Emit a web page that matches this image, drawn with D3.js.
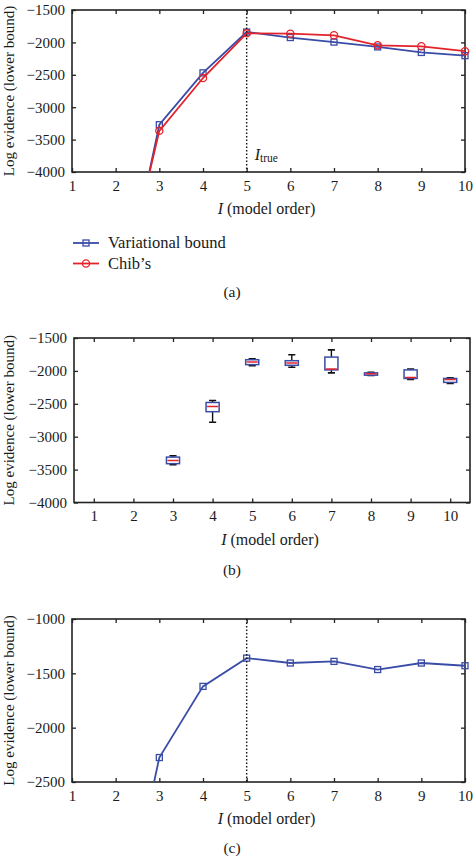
<!DOCTYPE html>
<html>
<head>
<meta charset="utf-8">
<script src="https://cdn.jsdelivr.net/npm/d3@7"></script>
<style>
  body { margin: 0; background: #fff; }
  svg text { font-family: "Liberation Serif", "DejaVu Serif", serif; fill: #1a1a1a; }
</style>
</head>
<body>
<svg id="fig" width="474" height="856"></svg>
<script>
// model orders
const orders = [1, 2, 3, 4, 5, 6, 7, 8, 9, 10];
const lineOrders = [2, 3, 4, 5, 6, 7, 8, 9, 10];

// panel (a): variational bound vs Chib's estimate
const variationalA = [-6440, -3270, -2470, -1840, -1925, -1995, -2070, -2155, -2205];
const chibA = [-6230, -3365, -2550, -1860, -1865, -1890, -2045, -2060, -2135];

// panel (b): box plots over runs
const boxOrders = [3, 4, 5, 6, 7, 8, 9, 10];
const boxLow = [-3425, -2780, -1920, -1945, -2030, -2070, -2130, -2190];
const boxQ1 = [-3410, -2620, -1905, -1915, -1985, -2065, -2115, -2175];
const boxMedian = [-3360, -2540, -1865, -1880, -1970, -2045, -2100, -2130];
const boxQ3 = [-3310, -2480, -1830, -1845, -1790, -2030, -1985, -2115];
const boxHigh = [-3290, -2450, -1815, -1755, -1680, -2020, -1970, -2105];

// panel (c): variational bound on a second dataset
const variationalC = [-4140, -2275, -1620, -1360, -1405, -1390, -1465, -1405, -1430];

const yTicksAB = [-4000, -3500, -3000, -2500, -2000, -1500];
const yTicksC = [-2500, -2000, -1500, -1000];

const blue = "#3a4ca6", red = "#e3232b";
const svg = d3.select("#fig");
const fmt = d => (d < 0 ? "\u2212" + Math.abs(d) : String(d));

function panel(cfg) {
  const g = svg.append("g");
  const x = d3.scaleLinear().domain(cfg.xDomain).range([cfg.left, cfg.right]);
  const y = d3.scaleLinear().domain(cfg.yDomain).range([cfg.bottom, cfg.top]);

  const axes = [
    [d3.axisBottom(x).tickValues(orders).tickFormat(d => d).tickPadding(8), `translate(0,${cfg.bottom})`],
    [d3.axisTop(x).tickValues(orders).tickFormat(""), `translate(0,${cfg.top})`],
    [d3.axisLeft(y).tickValues(cfg.yTicks).tickFormat(fmt).tickPadding(7), `translate(${cfg.left},0)`],
    [d3.axisRight(y).tickValues(cfg.yTicks).tickFormat(""), `translate(${cfg.right},0)`]
  ];
  axes.forEach(([ax, tr]) => {
    const a = g.append("g").attr("transform", tr)
      .call(ax.tickSizeInner(-4).tickSizeOuter(0));
    a.select(".domain").remove();
    a.selectAll("line").attr("stroke", "#222").attr("stroke-width", 1.3);
    a.selectAll("text").style("font-size", "15px").attr("fill", "#1a1a1a")
      .style("font-family", '"Liberation Serif", serif');
  });

  g.append("rect")
    .attr("x", cfg.left).attr("y", cfg.top)
    .attr("width", cfg.right - cfg.left).attr("height", cfg.bottom - cfg.top)
    .attr("fill", "none").attr("stroke", "#222").attr("stroke-width", 1.6);

  g.append("text")
    .attr("transform", `translate(14,${(cfg.top + cfg.bottom) / 2}) rotate(-90)`)
    .attr("text-anchor", "middle").style("font-size", "15px")
    .text("Log evidence (lower bound)");

  const xl = g.append("text")
    .attr("x", (cfg.left + cfg.right) / 2 - 2).attr("y", cfg.bottom + 42)
    .attr("text-anchor", "middle").style("font-size", "16px");
  xl.append("tspan").attr("font-style", "italic").text("I");
  xl.append("tspan").text(" (model order)");

  g.append("text")
    .attr("x", 232).attr("y", cfg.captionY)
    .attr("text-anchor", "middle").style("font-size", "15.5px")
    .text(cfg.caption);

  const clipId = "clip" + cfg.caption.replace(/\W/g, "");
  g.append("clipPath").attr("id", clipId).append("rect")
    .attr("x", cfg.left).attr("y", cfg.top - 10)
    .attr("width", cfg.right - cfg.left + 10).attr("height", cfg.bottom - cfg.top + 10);
  const plot = g.append("g").attr("clip-path", `url(#${clipId})`);

  return { g, plot, x, y };
}

function trueOrderLine(p, label) {
  p.g.append("line")
    .attr("x1", p.x(5)).attr("x2", p.x(5))
    .attr("y1", p.y.range()[1]).attr("y2", p.y.range()[0])
    .attr("stroke", "#111").attr("stroke-width", 1.4)
    .attr("stroke-dasharray", "1.5,2");
  if (label) {
    const t = p.g.append("text")
      .attr("x", p.x(5) + 8).attr("y", p.y.range()[0] - 12)
      .style("font-size", "16px");
    t.append("tspan").attr("font-style", "italic").text("I");
    t.append("tspan").attr("dy", 2).style("font-size", "11.5px").text("true");
  }
}

function series(p, values, color, marker) {
  const pts = lineOrders.map((o, i) => [o, values[i]]);
  p.plot.append("path")
    .datum(pts)
    .attr("d", d3.line().x(d => p.x(d[0])).y(d => p.y(d[1])))
    .attr("fill", "none").attr("stroke", color).attr("stroke-width", 1.8);
  const m = p.plot.selectAll(null).data(pts).join(marker === "square" ? "rect" : "circle");
  if (marker === "square") {
    m.attr("x", d => p.x(d[0]) - 3).attr("y", d => p.y(d[1]) - 3)
      .attr("width", 6).attr("height", 6);
  } else {
    m.attr("cx", d => p.x(d[0])).attr("cy", d => p.y(d[1])).attr("r", 3.6);
  }
  m.attr("fill", "none").attr("stroke", color).attr("stroke-width", 1.3);
}

// ---- panel (a)
const pa = panel({ left: 72, right: 465, top: 10, bottom: 172, xDomain: [1, 10],
  yDomain: [-4000, -1500], yTicks: yTicksAB, caption: "(a)", captionY: 297 });
trueOrderLine(pa, true);
series(pa, variationalA, blue, "square");
series(pa, chibA, red, "circle");

// legend
const legend = [["Variational bound", blue, "square"], ["Chib\u2019s", red, "circle"]];
legend.forEach(([name, color, marker], i) => {
  const ly = 243 + i * 20.5;
  pa.g.append("line").attr("x1", 73).attr("x2", 99).attr("y1", ly).attr("y2", ly)
    .attr("stroke", color).attr("stroke-width", 1.8);
  if (marker === "square") {
    pa.g.append("rect").attr("x", 83).attr("y", ly - 3).attr("width", 6).attr("height", 6)
      .attr("fill", "none").attr("stroke", color).attr("stroke-width", 1.3);
  } else {
    pa.g.append("circle").attr("cx", 86).attr("cy", ly).attr("r", 3.6)
      .attr("fill", "none").attr("stroke", color).attr("stroke-width", 1.3);
  }
  pa.g.append("text").attr("x", 108).attr("y", ly + 5).style("font-size", "16.5px").text(name);
});

// ---- panel (b)
const pb = panel({ left: 74, right: 470, top: 338, bottom: 502.5, xDomain: [0.5, 10.5],
  yDomain: [-4000, -1500], yTicks: yTicksAB, caption: "(b)", captionY: 575 });
const boxes = boxOrders.map((o, i) => ({
  o, lo: boxLow[i], q1: boxQ1[i], med: boxMedian[i], q3: boxQ3[i], hi: boxHigh[i]
}));
const bw = 0.33, cw = 0.18;
const bg = pb.plot.selectAll(".box").data(boxes).join("g").attr("class", "box");
bg.append("line").attr("x1", d => pb.x(d.o)).attr("x2", d => pb.x(d.o))
  .attr("y1", d => pb.y(d.hi)).attr("y2", d => pb.y(d.q3))
  .attr("stroke", "#111").attr("stroke-width", 1.4);
bg.append("line").attr("x1", d => pb.x(d.o)).attr("x2", d => pb.x(d.o))
  .attr("y1", d => pb.y(d.q1)).attr("y2", d => pb.y(d.lo))
  .attr("stroke", "#111").attr("stroke-width", 1.4);
["hi", "lo"].forEach(k => {
  bg.append("line")
    .attr("x1", d => pb.x(d.o - cw / 2)).attr("x2", d => pb.x(d.o + cw / 2))
    .attr("y1", d => pb.y(d[k])).attr("y2", d => pb.y(d[k]))
    .attr("stroke", "#111").attr("stroke-width", 1.6);
});
bg.append("rect")
  .attr("x", d => pb.x(d.o - bw / 2)).attr("width", pb.x(bw) - pb.x(0))
  .attr("y", d => pb.y(d.q3)).attr("height", d => pb.y(d.q1) - pb.y(d.q3))
  .attr("fill", "#fff").attr("stroke", blue).attr("stroke-width", 1.5);
bg.append("line")
  .attr("x1", d => pb.x(d.o - bw / 2) + 1).attr("x2", d => pb.x(d.o + bw / 2) - 1)
  .attr("y1", d => pb.y(d.med)).attr("y2", d => pb.y(d.med))
  .attr("stroke", red).attr("stroke-width", 1.5);

// ---- panel (c)
const pc = panel({ left: 72, right: 465, top: 619, bottom: 782, xDomain: [1, 10],
  yDomain: [-2500, -1000], yTicks: yTicksC, caption: "(c)", captionY: 853 });
trueOrderLine(pc, false);
series(pc, variationalC, blue, "square");
</script>
</body>
</html>
